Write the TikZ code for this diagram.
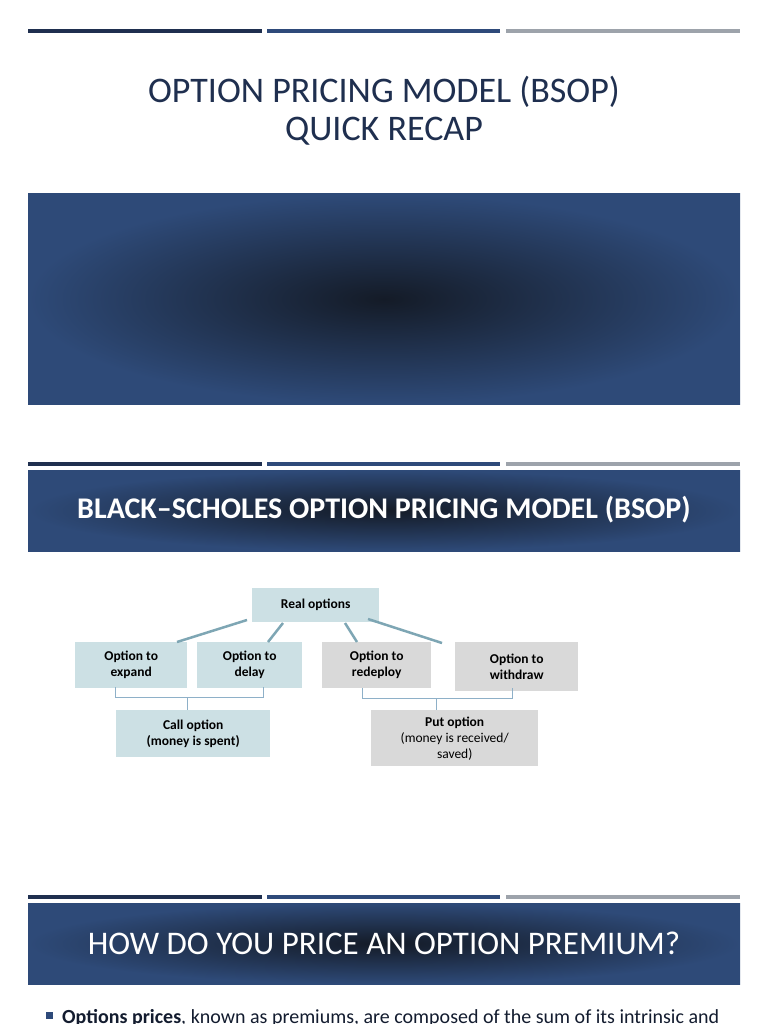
\documentclass[tikz,border=0pt]{standalone}
\usepackage{fontspec}
\setmainfont{Carlito}
\definecolor{navy}{HTML}{1F2F4F}
\definecolor{bblue}{HTML}{2E4A7A}
\definecolor{bgray}{HTML}{9DA3AB}
\definecolor{edgeC}{HTML}{2E4A78}
\definecolor{ctrC}{HTML}{141B27}
\definecolor{lblue}{HTML}{CCE0E4}
\definecolor{lgray}{HTML}{D9D9D9}
\definecolor{teal}{HTML}{7EA6B4}
\definecolor{brk}{HTML}{8EB0C8}
\tikzset{
 bx/.style={anchor=north west,inner sep=0,align=center,font=\bfseries\fontsize{13.5}{16}\selectfont},
 conn/.style={teal,line width=2.5pt},
 brack/.style={brk,line width=1pt},
 bar/.style={line width=4pt}
}
\begin{document}
\begin{tikzpicture}[x=1pt,y=-1pt]
\useasboundingbox (0,0) rectangle (768,1024);
\clip (0,0) rectangle (768,1024);
\fill[white] (0,0) rectangle (768,1024);
\foreach \y in {31,464,897}{
 \draw[bar,navy] (28,\y) -- (262,\y);
 \draw[bar,bblue] (267,\y) -- (500,\y);
 \draw[bar,bgray] (506,\y) -- (740,\y);
}
\node[navy,font=\fontsize{36}{40}\selectfont] (t1) at (384,92) {OPTION PRICING MODEL (BSOP)};
\node[navy,font=\fontsize{36}{40}\selectfont] (t2) at (384,131) {QUICK RECAP};
\shade[inner color=ctrC,outer color=edgeC] (28,194) rectangle (740,404);
\shade[inner color=ctrC,outer color=edgeC] (28,470) rectangle (740,551);
\node[white,font=\bfseries\fontsize{30}{34}\selectfont] (b1) at (384,510) {BLACK–SCHOLES OPTION PRICING MODEL (BSOP)};
\shade[inner color=ctrC,outer color=edgeC] (28,903) rectangle (740,984);
\node[white,font=\fontsize{33}{38}\selectfont] (b2) at (384,943) {HOW DO YOU PRICE AN OPTION PREMIUM?};
% diagram
\node[bx,fill=lblue,minimum width=127,minimum height=34] (real) at (252,588) {Real options};
\node[bx,fill=lblue,minimum width=112,minimum height=46] (exp) at (75,642) {Option to\\expand};
\node[bx,fill=lblue,minimum width=105,minimum height=46] (del) at (197,642) {Option to\\delay};
\node[bx,fill=lgray,minimum width=109,minimum height=46] (red) at (322,642) {Option to\\redeploy};
\node[bx,fill=lgray,minimum width=123,minimum height=49] (wit) at (455,642) {Option to\\withdraw};
\node[bx,fill=lblue,minimum width=154,minimum height=47] (call) at (116,710) {Call option\\(money is spent)};
\node[bx,fill=lgray,minimum width=167,minimum height=56,font=\fontsize{13.5}{16}\selectfont] (put) at (371,710) {\textbf{Put option}\\(money is received/\\saved)};
\draw[conn] (177,642) -- (247,620);
\draw[conn] (268,642) -- (283,623);
\draw[conn] (345,623) -- (357,642);
\draw[conn] (368,619) -- (442,643);
\draw[brack] (115,687) -- (115,697) -- (263,697) -- (263,687);
\draw[brack] (187,697) -- (187,710);
\draw[brack] (362,688) -- (362,698) -- (512,698) -- (512,688);
\draw[brack] (436,698) -- (436,710);
% bullet
\fill[bblue] (46,1012) rectangle (53,1019);
\node[anchor=west,inner sep=0,navy!60!black,font=\fontsize{20}{24}\selectfont] (txt) at (62,1018) {\textbf{Options prices}, known as premiums, are composed of the sum of its intrinsic and};
\end{tikzpicture}
\end{document}
